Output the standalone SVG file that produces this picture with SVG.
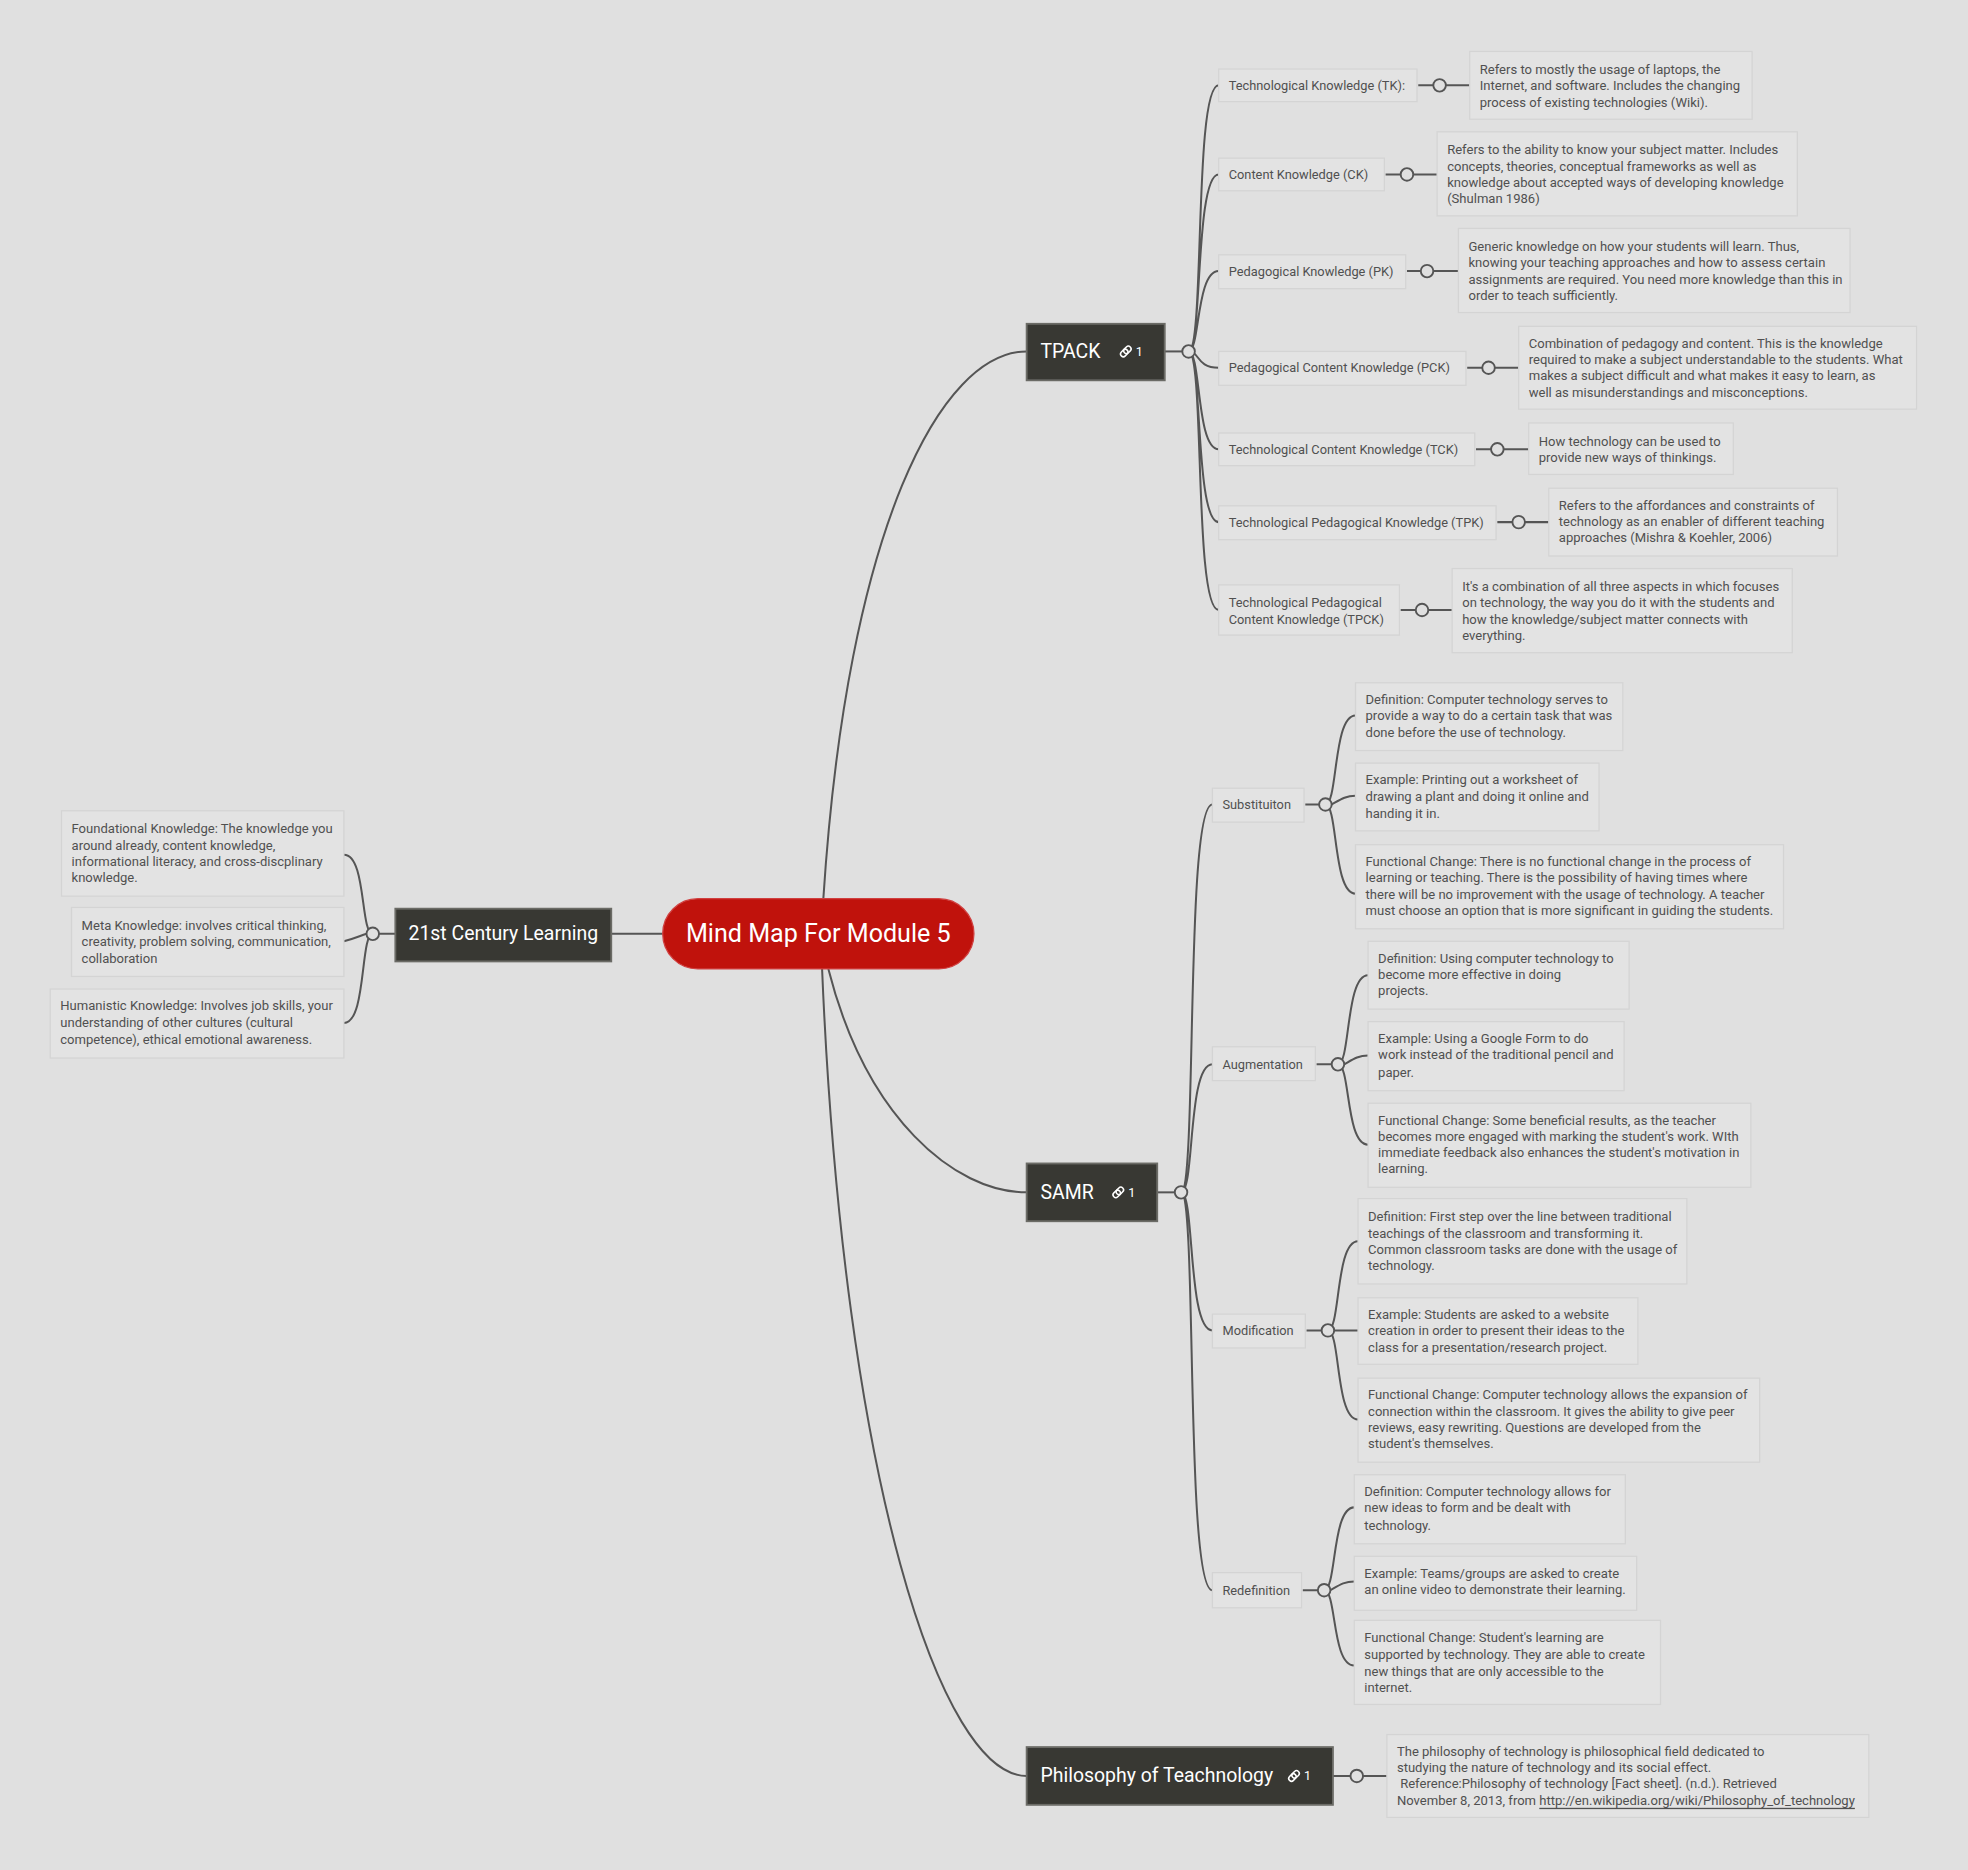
<svg xmlns="http://www.w3.org/2000/svg" width="1968" height="1870" viewBox="0 0 1968 1870">
<style>
.bg{fill:#e0e0e0}
.c{fill:none;stroke:#555;stroke-width:1.6}
.hub{fill:#e0e0e0;stroke:#555;stroke-width:1.5}
.box{fill:#e3e3e3;stroke:#d4d4d4;stroke-width:1}
.t{font-family:Roboto,"Liberation Sans",sans-serif;font-size:10.4px;fill:#505050;dominant-baseline:central}
.lt{font-family:Roboto,"Liberation Sans",sans-serif;font-size:10.2px;fill:#505050;dominant-baseline:central}
.mn{fill:#383833;stroke:#6b6b66;stroke-width:1.5}
.mt{font-family:Roboto,"Liberation Sans",sans-serif;font-size:15.5px;fill:#ffffff;dominant-baseline:central}
.ic{fill:none;stroke:#fff;stroke-width:1.2}
.it{font-family:Roboto,"Liberation Sans",sans-serif;font-size:10px;fill:#fff;dominant-baseline:central}
</style>
<defs>
<g id="link"><rect class="ic" x="-5" y="-2.2" width="6.5" height="4.4" rx="2.2" transform="rotate(-45)"/><rect class="ic" x="-1.5" y="-2.2" width="6.5" height="4.4" rx="2.2" transform="rotate(-45)"/></g>
</defs>
<rect class="bg" width="1968" height="1870"/>
<g transform="scale(1.2551)">
<g id="connectors">
<path class="c" d="M656,716 C675,420 750,280 818,280"/>
<path class="c" d="M660,772 C690,890 760,950 818,950"/>
<path class="c" d="M655,772 C672,1180 750,1415 818,1415"/>
<path class="c" d="M487,744 L528,744"/>
<path class="c" d="M928,280 L942,280"/>
<path class="c" d="M947,280 C960,280 951,68 971,68 M947,280 C958,280 952,139 971,139 M947,280 C956,280 953,216 971,216 M947,280 C956,280 953,293 971,293 M947,280 C957,280 953,358 971,358 M947,280 C958,280 952,416 971,416 M947,280 C960,280 951,486 971,486"/>
<path class="c" d="M1130,68 L1142,68 M1152,68 L1171,68 M1104,139 L1116,139 M1126,139 L1145,139 M1121,216 L1132,216 M1142,216 L1162,216 M1169,293 L1181,293 M1191,293 L1210,293 M1176,358 L1188,358 M1198,358 L1218,358 M1193,416 L1205,416 M1215,416 L1234,416 M1116,486 L1128,486 M1138,486 L1157,486"/>
<path class="c" d="M922,950 L936,950"/>
<path class="c" d="M941,950 C954,950 944,641 966,641 M941,950 C952,950 946,848 966,848 M941,950 C952,950 946,1060 966,1060 M941,950 C954,950 944,1267 966,1267"/>
<path class="c" d="M1040,641 L1051,641 M1056,641 C1066,641 1062,570 1080,570 M1061,641 C1068,637 1072,634 1080,634 M1056,641 C1066,641 1062,712 1080,712"/>
<path class="c" d="M1049,848 L1061,848 M1066,848 C1076,848 1072,777 1090,777 M1071,848 C1078,844 1082,841 1090,841 M1066,848 C1076,848 1072,912 1090,912"/>
<path class="c" d="M1041,1060 L1053,1060 M1058,1060 C1068,1060 1064,989 1082,989 M1063,1060 L1082,1060 M1058,1060 C1068,1060 1064,1131 1082,1131"/>
<path class="c" d="M1038,1267 L1050,1267 M1055,1267 C1065,1267 1061,1201 1079,1201 M1060,1267 C1067,1263 1071,1260 1079,1260 M1055,1267 C1065,1267 1061,1327 1079,1327"/>
<path class="c" d="M1062,1415 L1076,1415 M1086,1415 L1105,1415"/>
<path class="c" d="M315,744 L302,744 M297,744 C287,744 292,681 274,681 M292,744 C286,746 282,748 274,750 M297,744 C287,744 292,815 274,815"/>
<g>
<circle class="hub" cx="947" cy="280" r="5"/><circle class="hub" cx="941" cy="950" r="5"/><circle class="hub" cx="1081" cy="1415" r="5"/><circle class="hub" cx="297" cy="744" r="5"/>
<circle class="hub" cx="1147" cy="68" r="5"/><circle class="hub" cx="1121" cy="139" r="5"/><circle class="hub" cx="1137" cy="216" r="5"/><circle class="hub" cx="1186" cy="293" r="5"/><circle class="hub" cx="1193" cy="358" r="5"/><circle class="hub" cx="1210" cy="416" r="5"/><circle class="hub" cx="1133" cy="486" r="5"/>
<circle class="hub" cx="1056" cy="641" r="5"/><circle class="hub" cx="1066" cy="848" r="5"/><circle class="hub" cx="1058" cy="1060" r="5"/><circle class="hub" cx="1055" cy="1267" r="5"/>
</g>
</g>
<g id="root"><rect x="528" y="716" width="248" height="56" rx="28" fill="#c0120c" stroke="#d04040" stroke-width="1"/><text x="652" y="744" text-anchor="middle" class="mt" style="font-size:20px">Mind Map For Module 5</text></g>
<g id="tpack"><rect class="mn" x="818" y="258" width="110" height="45"/><text class="mt" x="829" y="280">TPACK</text><use href="#link" x="897" y="280"/><text class="it" x="905" y="280">1</text></g>
<g id="samr"><rect class="mn" x="818" y="927" width="104" height="46"/><text class="mt" x="829" y="950">SAMR</text><use href="#link" x="891" y="950"/><text class="it" x="899" y="950">1</text></g>
<g id="philosophy"><rect class="mn" x="818" y="1392" width="244" height="46"/><text class="mt" x="829" y="1415">Philosophy of Teachnology</text><use href="#link" x="1031" y="1415"/><text class="it" x="1039" y="1415">1</text></g>
<g id="c21"><rect class="mn" x="315" y="724" width="172" height="42"/><text class="mt" x="401" y="744" text-anchor="middle">21st Century Learning</text></g>

<g id="tk"><rect class="box" x="971" y="55" width="158" height="26"/><text class="lt" x="979" y="68">Technological Knowledge (TK):</text></g>
<g id="tk-d"><rect class="box" x="1171" y="41" width="225" height="54"/><text class="t" x="1179"><tspan x="1179" y="55">Refers to mostly the usage of laptops, the</tspan><tspan x="1179" y="68">Internet, and software. Includes the changing</tspan><tspan x="1179" y="81">process of existing technologies (Wiki).</tspan></text></g>
<g id="ck"><rect class="box" x="971" y="126" width="132" height="26"/><text class="lt" x="979" y="139">Content Knowledge (CK)</text></g>
<g id="ck-d"><rect class="box" x="1145" y="105" width="287" height="67"/><text class="t"><tspan x="1153" y="119">Refers to the ability to know your subject matter. Includes</tspan><tspan x="1153" y="132">concepts, theories, conceptual frameworks as well as</tspan><tspan x="1153" y="145">knowledge about accepted ways of developing knowledge</tspan><tspan x="1153" y="158">(Shulman 1986)</tspan></text></g>
<g id="pk"><rect class="box" x="971" y="203" width="149" height="27"/><text class="lt" x="979" y="216">Pedagogical Knowledge (PK)</text></g>
<g id="pk-d"><rect class="box" x="1162" y="182" width="312" height="67"/><text class="t"><tspan x="1170" y="196">Generic knowledge on how your students will learn. Thus,</tspan><tspan x="1170" y="209">knowing your teaching approaches and how to assess certain</tspan><tspan x="1170" y="222">assignments are required. You need more knowledge than this in</tspan><tspan x="1170" y="235">order to teach sufficiently.</tspan></text></g>
<g id="pck"><rect class="box" x="971" y="280" width="197" height="27"/><text class="lt" x="979" y="293">Pedagogical Content Knowledge (PCK)</text></g>
<g id="pck-d"><rect class="box" x="1210" y="260" width="317" height="66"/><text class="t"><tspan x="1218" y="273">Combination of pedagogy and content. This is the knowledge</tspan><tspan x="1218" y="286">required to make a subject understandable to the students. What</tspan><tspan x="1218" y="299">makes a subject difficult and what makes it easy to learn, as</tspan><tspan x="1218" y="312">well as misunderstandings and misconceptions.</tspan></text></g>
<g id="tck"><rect class="box" x="971" y="345" width="204" height="26"/><text class="lt" x="979" y="358">Technological Content Knowledge (TCK)</text></g>
<g id="tck-d"><rect class="box" x="1218" y="337" width="163" height="41"/><text class="t"><tspan x="1226" y="351">How technology can be used to</tspan><tspan x="1226" y="364">provide new ways of thinkings.</tspan></text></g>
<g id="tpk"><rect class="box" x="971" y="403" width="221" height="27"/><text class="lt" x="979" y="416">Technological Pedagogical Knowledge (TPK)</text></g>
<g id="tpk-d"><rect class="box" x="1234" y="389" width="230" height="54"/><text class="t"><tspan x="1242" y="402">Refers to the affordances and constraints of</tspan><tspan x="1242" y="415">technology as an enabler of different teaching</tspan><tspan x="1242" y="428">approaches (Mishra &amp; Koehler, 2006)</tspan></text></g>
<g id="tpck"><rect class="box" x="971" y="466" width="144" height="40"/><text class="lt"><tspan x="979" y="480">Technological Pedagogical</tspan><tspan x="979" y="493">Content Knowledge (TPCK)</tspan></text></g>
<g id="tpck-d"><rect class="box" x="1157" y="453" width="271" height="67"/><text class="t"><tspan x="1165" y="467">It's a combination of all three aspects in which focuses</tspan><tspan x="1165" y="480">on technology, the way you do it with the students and</tspan><tspan x="1165" y="493">how the knowledge/subject matter connects with</tspan><tspan x="1165" y="506">everything.</tspan></text></g>

<g id="sub"><rect class="box" x="966" y="628" width="73" height="27"/><text class="lt" x="974" y="641">Substituiton</text></g>
<g id="sub-1"><rect class="box" x="1080" y="544" width="213" height="54"/><text class="t"><tspan x="1088" y="557">Definition: Computer technology serves to</tspan><tspan x="1088" y="570">provide a way to do a certain task that was</tspan><tspan x="1088" y="583">done before the use of technology.</tspan></text></g>
<g id="sub-2"><rect class="box" x="1080" y="608" width="194" height="54"/><text class="t"><tspan x="1088" y="621">Example: Printing out a worksheet of</tspan><tspan x="1088" y="634">drawing a plant and doing it online and</tspan><tspan x="1088" y="648">handing it in.</tspan></text></g>
<g id="sub-3"><rect class="box" x="1080" y="673" width="341" height="67"/><text class="t"><tspan x="1088" y="686">Functional Change: There is no functional change in the process of</tspan><tspan x="1088" y="699">learning or teaching. There is the possibility of having times where</tspan><tspan x="1088" y="712">there will be no improvement with the usage of technology. A teacher</tspan><tspan x="1088" y="725">must choose an option that is more significant in guiding the students.</tspan></text></g>

<g id="aug"><rect class="box" x="966" y="834" width="82" height="27"/><text class="lt" x="974" y="848">Augmentation</text></g>
<g id="aug-1"><rect class="box" x="1090" y="750" width="208" height="54"/><text class="t"><tspan x="1098" y="763">Definition: Using computer technology to</tspan><tspan x="1098" y="776">become more effective in doing</tspan><tspan x="1098" y="789">projects.</tspan></text></g>
<g id="aug-2"><rect class="box" x="1090" y="814" width="204" height="55"/><text class="t"><tspan x="1098" y="827">Example: Using a Google Form to do</tspan><tspan x="1098" y="840">work instead of the traditional pencil and</tspan><tspan x="1098" y="854">paper.</tspan></text></g>
<g id="aug-3"><rect class="box" x="1090" y="879" width="305" height="67"/><text class="t"><tspan x="1098" y="892">Functional Change: Some beneficial results, as the teacher</tspan><tspan x="1098" y="905">becomes more engaged with marking the student's work. WIth</tspan><tspan x="1098" y="918">immediate feedback also enhances the student's motivation in</tspan><tspan x="1098" y="931">learning.</tspan></text></g>

<g id="mod"><rect class="box" x="966" y="1047" width="74" height="27"/><text class="lt" x="974" y="1060">Modification</text></g>
<g id="mod-1"><rect class="box" x="1082" y="955" width="262" height="68"/><text class="t"><tspan x="1090" y="969">Definition: First step over the line between traditional</tspan><tspan x="1090" y="982">teachings of the classroom and transforming it.</tspan><tspan x="1090" y="995">Common classroom tasks are done with the usage of</tspan><tspan x="1090" y="1008">technology.</tspan></text></g>
<g id="mod-2"><rect class="box" x="1082" y="1034" width="223" height="53"/><text class="t"><tspan x="1090" y="1047">Example: Students are asked to a website</tspan><tspan x="1090" y="1060">creation in order to present their ideas to the</tspan><tspan x="1090" y="1073">class for a presentation/research project.</tspan></text></g>
<g id="mod-3"><rect class="box" x="1082" y="1098" width="320" height="67"/><text class="t"><tspan x="1090" y="1111">Functional Change: Computer technology allows the expansion of</tspan><tspan x="1090" y="1124">connection within the classroom. It gives the ability to give peer</tspan><tspan x="1090" y="1137">reviews, easy rewriting. Questions are developed from the</tspan><tspan x="1090" y="1150">student's themselves.</tspan></text></g>

<g id="red"><rect class="box" x="966" y="1253" width="71" height="28"/><text class="lt" x="974" y="1267">Redefinition</text></g>
<g id="red-1"><rect class="box" x="1079" y="1175" width="216" height="55"/><text class="t"><tspan x="1087" y="1188">Definition: Computer technology allows for</tspan><tspan x="1087" y="1201">new ideas to form and be dealt with</tspan><tspan x="1087" y="1215">technology.</tspan></text></g>
<g id="red-2"><rect class="box" x="1079" y="1240" width="225" height="43"/><text class="t"><tspan x="1087" y="1253">Example: Teams/groups are asked to create</tspan><tspan x="1087" y="1266">an online video to demonstrate their learning.</tspan></text></g>
<g id="red-3"><rect class="box" x="1079" y="1291" width="244" height="67"/><text class="t"><tspan x="1087" y="1304">Functional Change: Student's learning are</tspan><tspan x="1087" y="1318">supported by technology. They are able to create</tspan><tspan x="1087" y="1331">new things that are only accessible to the</tspan><tspan x="1087" y="1344">internet.</tspan></text></g>

<g id="phil-d"><rect class="box" x="1105" y="1382" width="384" height="66"/><text class="t"><tspan x="1113" y="1395">The philosophy of technology is philosophical field dedicated to</tspan><tspan x="1113" y="1408">studying the nature of technology and its social effect.</tspan><tspan x="1113" y="1421"> Reference:Philosophy of technology [Fact sheet]. (n.d.). Retrieved</tspan><tspan x="1113" y="1434">November 8, 2013, from <tspan text-decoration="underline">http://en.wikipedia.org/wiki/Philosophy_of_technology</tspan></tspan></text></g>

<g id="c21-1"><rect class="box" x="49" y="646" width="225" height="68"/><text class="t"><tspan x="57" y="660">Foundational Knowledge: The knowledge you</tspan><tspan x="57" y="673">around already, content knowledge,</tspan><tspan x="57" y="686">informational literacy, and cross-discplinary</tspan><tspan x="57" y="699">knowledge.</tspan></text></g>
<g id="c21-2"><rect class="box" x="57" y="723" width="217" height="55"/><text class="t"><tspan x="65" y="737">Meta Knowledge: involves critical thinking,</tspan><tspan x="65" y="750">creativity, problem solving, communication,</tspan><tspan x="65" y="763">collaboration</tspan></text></g>
<g id="c21-3"><rect class="box" x="40" y="788" width="234" height="55"/><text class="t"><tspan x="48" y="801">Humanistic Knowledge: Involves job skills, your</tspan><tspan x="48" y="814">understanding of other cultures (cultural</tspan><tspan x="48" y="828">competence), ethical emotional awareness.</tspan></text></g>
</g>
</svg>
